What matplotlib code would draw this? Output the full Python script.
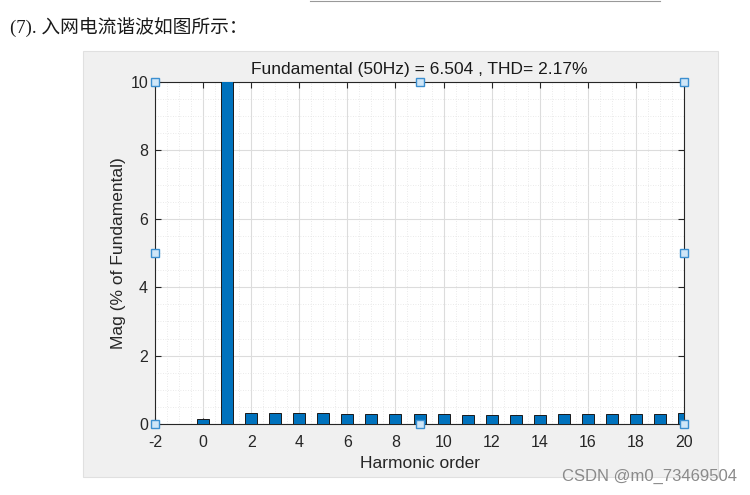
import matplotlib.pyplot as plt
import matplotlib.patches as mpatches
import numpy as np

plt.rcParams['font.family'] = ['Liberation Sans', 'DejaVu Sans']
plt.rcParams['axes.unicode_minus'] = False

# harmonic spectrum (% of fundamental)
orders = list(range(0, 21))
mags = [0.16, 100, 0.33, 0.33, 0.33, 0.33, 0.30, 0.30, 0.30, 0.29, 0.29,
        0.27, 0.27, 0.27, 0.27, 0.28, 0.30, 0.30, 0.30, 0.30, 0.31]

title = "Fundamental (50Hz) = 6.504 , THD= 2.17%"
caption = "(7). 入网电流谐波如图所示："
watermark = "CSDN @m0_73469504"

fig = plt.figure(figsize=(7.5, 4.95), dpi=100)
fig.patch.set_facecolor("white")

# gray figure panel of the matlab window
panel = mpatches.Rectangle((0.111, 0.036), 0.846, 0.861, transform=fig.transFigure,
                           facecolor="#f0f0f0", edgecolor="#e0e0e0", lw=0.8, zorder=-5)
fig.patches.append(panel)
fig.add_artist(plt.Line2D([0.413, 0.88], [0.998, 0.998], color="#999999", lw=0.8))

ax = fig.add_axes([0.2067, 0.1434, 0.7053, 0.6909])
ax.set_zorder(2)
ax.set_facecolor("white")
ax.bar(orders, mags, width=0.5, color="#0072BD", edgecolor="#1a1a1a", linewidth=0.7, zorder=3)

ax.set_xlim(-2, 20)
ax.set_ylim(0, 10)
ax.set_xticks(np.arange(-2, 21, 2))
ax.set_yticks(np.arange(0, 11, 2))
ax.set_xticks(np.arange(-2, 20.1, 0.5), minor=True)
ax.set_yticks(np.arange(0, 10.1, 0.5), minor=True)
ax.grid(which="major", color="#dcdcdc", lw=0.8, zorder=0)
ax.grid(which="minor", color="#e3e3e3", lw=0.6, ls=(0, (1, 2)), zorder=0)
ax.tick_params(which="minor", length=0)
ax.tick_params(which="major", direction="in", length=4, color="#262626",
               labelsize=11.5, labelcolor="#262626", top=True, right=True)
ax.tick_params(axis="x", pad=8)
ax.tick_params(axis="y", pad=5)
for s in ax.spines.values():
    s.set_color("#262626")
    s.set_linewidth(0.8)

ax.set_title(title, fontsize=12.5, color="#1a1a1a", pad=6)
ax.set_xlabel("Harmonic order", fontsize=12.5, color="#262626", labelpad=4)
ax.set_ylabel("Mag (% of Fundamental)", fontsize=12.5, color="#262626", labelpad=3)

# selection handles on the axes box
hx = [0, 0, 0, 0.5, 0.5, 1, 1, 1]
hy = [0, 0.5, 1, 1, 0, 1, 0.5, 0]
ax.plot(hx, hy, ls="none", marker="s", ms=6, mfc="#cfe6f7", mec="#3b8fd0", mew=1,
        transform=ax.transAxes, clip_on=False, zorder=5)

fig.text(0.013, 0.945, caption, fontsize=13.5, color="#1a1a1a",
         family=["Liberation Serif", "Noto Sans CJK SC"], va="center")
fig.text(0.982, 0.038, watermark, fontsize=12, color="#8a8a8a", ha="right", va="center")

fig.savefig("out.png", dpi=100)
